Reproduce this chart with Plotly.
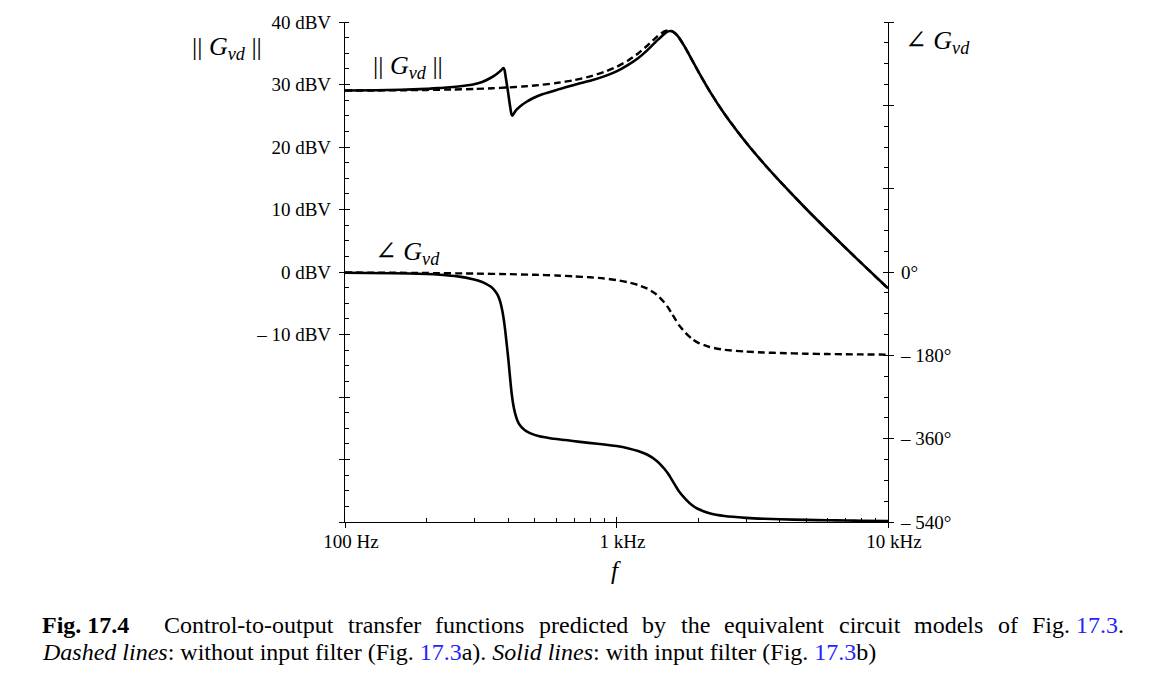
import plotly.graph_objects as go

# ---------------- data ----------------
# Magnitude without input filter (dashed), dBV
freq_mag_dashed = [100, 130, 160, 200, 250, 300, 350, 400, 450, 500, 600, 700, 800, 900,
                   1000, 1100, 1200, 1300, 1400, 1500, 1550, 1600, 1650, 1700, 1800, 1900,
                   2000, 2200, 2500, 3000, 3500, 4000, 5000, 6000, 7000, 8000, 10000]
mag_dashed = [29.03, 29.05, 29.08, 29.13, 29.20, 29.29, 29.40, 29.53, 29.67, 29.84, 30.23,
              30.71, 31.29, 31.99, 32.82, 33.81, 34.95, 36.24, 37.54, 38.50, 38.66, 38.54,
              38.13, 37.48, 35.75, 33.88, 32.10, 28.99, 25.29, 20.73, 17.28, 14.49, 10.08,
              6.64, 3.80, 1.38, -2.62]

# Magnitude with input filter (solid), dBV
freq_mag_solid = [100, 130, 160, 200, 224, 250, 275, 296, 320, 342, 360, 372, 380, 384,
                  387, 392, 398, 404, 410, 413, 418, 425, 441, 465, 492, 530, 569, 619,
                  692, 734, 800, 900, 1000, 1100, 1200, 1300, 1400, 1450, 1500, 1550, 1600,
                  1650, 1700, 1800, 1900, 2000, 2200, 2500, 3000, 3500, 4000, 5000, 6000,
                  7000, 8000, 10000]
mag_solid = [29.05, 29.08, 29.15, 29.30, 29.45, 29.60, 29.80, 30.00, 30.40, 31.00, 31.60,
             32.10, 32.50, 32.65, 32.30, 30.80, 29.00, 27.00, 25.30, 25.00, 25.30, 25.80,
             26.50, 27.20, 27.80, 28.40, 28.80, 29.30, 29.90, 30.20, 30.60, 31.30, 32.10,
             33.10, 34.20, 35.50, 36.90, 37.50, 38.10, 38.50, 38.52, 38.13, 37.48, 35.75,
             33.88, 32.10, 28.99, 25.29, 20.73, 17.28, 14.49, 10.08, 6.64, 3.80, 1.38, -2.62]

# Phase without input filter (dashed), degrees
freq_phase_dashed = [100, 200, 300, 400, 500, 600, 700, 800, 900, 1000, 1100, 1200, 1300,
                     1400, 1500, 1550, 1600, 1650, 1700, 1800, 1900, 2000, 2200, 2500, 3000,
                     3500, 4000, 5000, 6000, 7000, 8000, 10000]
phase_dashed = [-1.0, -2.2, -3.4, -4.6, -6.0, -7.5, -9.5, -11.5, -14.0, -17.5, -22.0, -28.0,
                -36.0, -48.0, -66.0, -77.0, -90.0, -103.0, -115.0, -132.0, -145.0, -153.0,
                -162.0, -168.0, -172.0, -174.0, -175.0, -176.5, -177.2, -177.7, -178.0, -178.5]

# Phase with input filter (solid), degrees
freq_phase_solid = [100, 150, 200, 224, 260, 296, 320, 332, 345, 357, 366, 372, 380, 388,
                    394, 400, 405, 411, 417, 423, 431, 441, 460, 480, 520, 569, 650, 734,
                    850, 1000, 1100, 1200, 1300, 1400, 1500, 1550, 1600, 1650, 1700, 1800,
                    1900, 2000, 2200, 2500, 3000, 3500, 4000, 5000, 6000, 7000, 8000, 10000]
phase_solid = [-1.5, -2.6, -4.3, -6.0, -9.5, -15.5, -21.5, -26.0, -32.0, -41.0, -51.0, -62.0,
               -85.0, -120.0, -155.0, -191.0, -225.0, -262.0, -288.0, -305.0, -320.0, -331.0,
               -342.0, -348.0, -355.0, -359.0, -363.0, -367.0, -371.0, -376.0, -380.5, -386.7,
               -394.8, -407.0, -425.0, -436.0, -449.0, -462.0, -474.0, -491.0, -504.0, -512.0,
               -521.0, -527.0, -531.0, -533.0, -534.0, -535.5, -536.3, -536.8, -537.2, -537.8]

# axis ticks
x_major = [100, 1000, 10000]
x_major_text = ["100 Hz", "1 kHz", "10 kHz"]
x_minor = [200, 300, 400, 500, 600, 700, 800, 900, 2000, 3000, 4000, 5000, 6000, 7000, 8000, 9000]
mag_major = [-40, -30, -20, -10, 0, 10, 20, 30, 40]
mag_major_text = ["", "", "", "\u2013 10 dBV", "0 dBV", "10 dBV", "20 dBV", "30 dBV", "40 dBV"]
phase_major = [-540, -360, -180, 0, 180, 360, 540]
phase_major_text = ["\u2013 540\u00b0", "\u2013 360\u00b0", "\u2013 180\u00b0", "0\u00b0", "", "", ""]

# caption text
LINK = "<span style='color:#2424ff'>17.3</span>"
caption_line1_words = ["Control-to-output", "transfer", "functions", "predicted", "by", "the",
                       "equivalent", "circuit", "models", "of", "Fig.\u00a0" + LINK + "."]
caption_line2 = ("<i>Dashed lines</i>: without input filter (Fig.\u00a0" + LINK + "a). "
                 "<i>Solid lines</i>: with input filter (Fig.\u00a0" + LINK + "b)")

# ---------------- layout geometry ----------------
W, H = 1157, 682
PL, PR, PT, PB = 345, 888, 18, 522   # plot area in pixels
FONT = "Liberation Serif, DejaVu Serif, serif"

def px_x(p):
    return (p - PL) / (PR - PL)

def px_y(p):
    return (PB - p) / (PB - PT)

fig = go.Figure()

dash_style = "7px,4px"
fig.add_trace(go.Scatter(x=freq_mag_dashed, y=mag_dashed, mode="lines", yaxis="y",
                         line=dict(color="black", width=2.4, dash=dash_style, shape="spline", smoothing=0.6)))
fig.add_trace(go.Scatter(x=freq_mag_solid, y=mag_solid, mode="lines", yaxis="y",
                         line=dict(color="black", width=2.6, shape="spline", smoothing=0.6)))
fig.add_trace(go.Scatter(x=freq_phase_dashed, y=phase_dashed, mode="lines", yaxis="y2",
                         line=dict(color="black", width=2.4, dash=dash_style, shape="spline", smoothing=0.6)))
fig.add_trace(go.Scatter(x=freq_phase_solid, y=phase_solid, mode="lines", yaxis="y2",
                         line=dict(color="black", width=2.6, shape="spline", smoothing=0.6)))
# empty helper traces so the overlay tick axes (crossing major ticks) are drawn
fig.add_trace(go.Scatter(x=[None], y=[None], xaxis="x2", yaxis="y3", mode="lines", hoverinfo="skip"))
fig.add_trace(go.Scatter(x=[None], y=[None], xaxis="x2", yaxis="y4", mode="lines", hoverinfo="skip"))

tickfont = dict(family=FONT, size=19, color="black")

fig.update_layout(
    width=W, height=H, autosize=False,
    margin=dict(l=PL, r=W - PR, t=PT, b=H - PB, pad=0),
    paper_bgcolor="white", plot_bgcolor="white",
    showlegend=False, hovermode=False,
    xaxis=dict(type="log", range=[2, 4], showgrid=False, zeroline=False,
               showline=True, linecolor="black", linewidth=1.3,
               ticks="outside", ticklen=5, tickwidth=1.2, tickcolor="black",
               tickmode="array", tickvals=x_major, ticktext=x_major_text,
               tickfont=tickfont, ticklabelshift=6, ticklabelstandoff=-3,
               minor=dict(tickmode="array", tickvals=x_minor, ticks="inside",
                          ticklen=4, tickwidth=1, tickcolor="black", showgrid=False)),
    xaxis2=dict(type="log", range=[2, 4], overlaying="x", anchor="y", side="bottom",
                showgrid=False, zeroline=False, showline=False, showticklabels=False,
                ticks="inside", ticklen=5, tickwidth=1.2, tickcolor="black",
                tickmode="array", tickvals=x_major),
    yaxis=dict(range=[-40, 40], showgrid=False, zeroline=False,
               showline=True, linecolor="black", linewidth=1.3,
               ticks="outside", ticklen=5, tickwidth=1.2, tickcolor="black",
               tickmode="array", tickvals=mag_major, ticktext=mag_major_text,
               tickfont=tickfont, ticklabelstandoff=4,
               minor=dict(tickmode="linear", tick0=0, dtick=2.5, ticks="inside",
                          ticklen=3.5, tickwidth=1, tickcolor="black", showgrid=False)),
    yaxis2=dict(range=[-540, 540], overlaying="y", side="right", anchor="x",
                showgrid=False, zeroline=False,
                showline=True, linecolor="black", linewidth=1.3,
                ticks="outside", ticklen=5, tickwidth=1.2, tickcolor="black",
                tickmode="array", tickvals=phase_major, ticktext=phase_major_text,
                tickfont=tickfont, ticklabelstandoff=3,
                minor=dict(tickmode="linear", tick0=0, dtick=45, ticks="inside",
                           ticklen=3.5, tickwidth=1, tickcolor="black", showgrid=False)),
    yaxis3=dict(range=[-40, 40], overlaying="y", side="left", anchor="x2",
                showgrid=False, zeroline=False, showline=False, showticklabels=False,
                ticks="inside", ticklen=5, tickwidth=1.2, tickcolor="black",
                tickmode="array", tickvals=mag_major),
    yaxis4=dict(range=[-540, 540], overlaying="y", side="right", anchor="x2",
                showgrid=False, zeroline=False, showline=False, showticklabels=False,
                ticks="inside", ticklen=5, tickwidth=1.2, tickcolor="black",
                tickmode="array", tickvals=phase_major),
)

label_font = dict(family=FONT, size=26, color="black")
mag_label = "|| <i>G</i><sub><i>vd</i></sub> ||"
ang_label = "\u2220 <i>G</i><sub><i>vd</i></sub>"
cap_font = dict(family=FONT, size=24, color="black")

annotations = [
    dict(text=mag_label, x=px_x(227), y=px_y(44), font=label_font),
    dict(text=mag_label, x=px_x(408), y=px_y(63), font=label_font),
    dict(text=ang_label, x=px_x(407), y=px_y(251), font=label_font),
    dict(text=ang_label, x=px_x(937), y=px_y(38), font=label_font),
    dict(text="<i>f</i>", x=px_x(616), y=px_y(571), font=dict(family=FONT, size=25, color="black")),
    dict(text="<b>Fig. 17.4</b>", x=px_x(40), y=px_y(626), xanchor="left", font=cap_font),
    dict(text=caption_line2, x=px_x(40), y=px_y(653), xanchor="left", font=cap_font),
]

# justified first caption line: words spread between x=162 and x=1122 px
word_px = [169.3, 73.3, 89.3, 89.3, 24.0, 29.3, 100.0, 61.3, 69.3, 20.0, 92.0]
gap = (1122 - 162 - sum(word_px)) / (len(word_px) - 1)
xpos = 162.0
for w, wpx in zip(caption_line1_words, word_px):
    annotations.append(dict(text=w, x=px_x(xpos), y=px_y(626), xanchor="left", font=cap_font))
    xpos += wpx + gap

for a in annotations:
    a.setdefault("xanchor", "center")
    a.update(xref="paper", yref="paper", yanchor="middle", showarrow=False)
fig.update_layout(annotations=annotations)

fig.write_html("out.html")
